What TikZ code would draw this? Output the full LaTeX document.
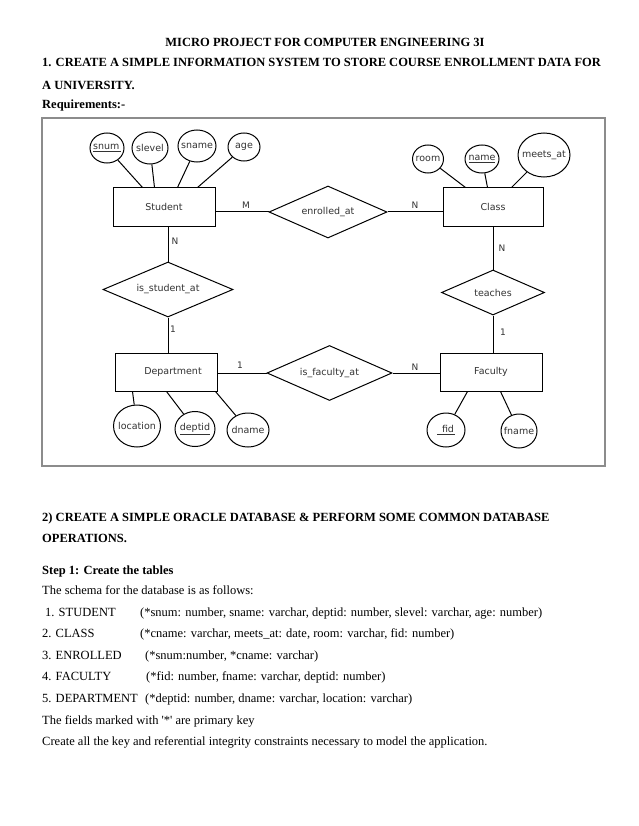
\documentclass[tikz,border=0pt]{standalone}
\usepackage{fontspec}
\setmainfont{Liberation Serif}
\newfontfamily\rawserif{Liberation Serif}
\newfontfamily\erfont{DejaVu Sans}
\usetikzlibrary{shapes.geometric,calc}
\begin{document}
\begin{tikzpicture}[x=1pt,y=-1pt,
  txt/.style={inner sep=0,anchor=base west,font=\fontsize{12.5}{14}\selectfont},
  btxt/.style={inner sep=0,anchor=base west,font=\fontsize{12.5}{14}\selectfont\bfseries},
  erf/.style={font=\erfont\fontsize{9.5}{11}\selectfont,text=black!80},
  ent/.style={draw,line width=1,rectangle,minimum width=102,minimum height=38,inner sep=0,erf},
  rel/.style={draw,line width=1,diamond,inner sep=0,erf},
  attr/.style={draw,line width=1,ellipse,inner sep=0,erf},
  card/.style={inner sep=0,font=\erfont\fontsize{9}{10}\selectfont,text=black!80},
  conn/.style={line width=1}]
\useasboundingbox (0,0) rectangle (638,826);
\fill[white] (0,0) rectangle (638,826);

% header
\node[inner sep=0,anchor=base,font=\fontsize{12.5}{14}\selectfont\bfseries] (title) at (325,46.5) {MICRO PROJECT FOR COMPUTER ENGINEERING 3I};
\node[btxt] (h1) at (42,67) {1. CREATE A SIMPLE INFORMATION SYSTEM TO STORE COURSE ENROLLMENT DATA FOR};
\node[btxt] (h2) at (42,89.5) {A UNIVERSITY.};
\node[btxt] (req) at (42,109) {Requirements:-};

% frame
\draw[black!45,line width=1.3] (42,118) rectangle (605,466);

% entities
\node[ent] (student) at (164,207) {Student};
\node[ent,minimum width=100] (class) at (493,207) {Class};
\node[ent] (dept) at (166,372) {\hspace*{14pt}Department};
\node[ent] (faculty) at (491,372) {Faculty};

% relationships
\node[rel,minimum width=118,minimum height=52] (enrolled) at (328,212) {\makebox[0pt]{enrolled\_at}};
\node[rel,minimum width=130,minimum height=55] (isstudent) at (168,289.5) {\makebox[0pt]{is\_student\_at}};
\node[rel,minimum width=103,minimum height=45] (teaches) at (493,292.5) {\makebox[0pt]{teaches}};
\node[rel,minimum width=125,minimum height=55] (isfaculty) at (329.5,373) {\makebox[0pt]{is\_faculty\_at}};

% attributes
\node[attr,minimum width=34,minimum height=30] (snum) at (107,148) {\makebox[0pt]{\underline{snum\,}}};
\node[attr,minimum width=36,minimum height=32] (slevel) at (150,148) {\makebox[0pt]{slevel}};
\node[attr,minimum width=38,minimum height=32] (sname) at (197,146) {\makebox[0pt]{sname}};
\node[attr,minimum width=32,minimum height=28] (age) at (244,147) {\makebox[0pt]{age}};
\node[attr,minimum width=31,minimum height=28] (room) at (428,159) {\makebox[0pt]{room}};
\node[attr,minimum width=34,minimum height=28] (name) at (482,159) {\makebox[0pt]{\underline{name}}};
\node[attr,minimum width=52,minimum height=44] (meets) at (544,155) {\makebox[0pt]{meets\_at}};
\node[attr,minimum width=47,minimum height=42] (location) at (137,426) {\makebox[0pt]{location}};
\node[attr,minimum width=40,minimum height=35] (deptid) at (195,429) {\makebox[0pt]{\underline{deptid}}};
\node[attr,minimum width=42,minimum height=34] (dname) at (248,430) {\makebox[0pt]{dname}};
\node[attr,minimum width=38,minimum height=34] (fid) at (446,430) {\makebox[0pt]{\underline{\hspace*{5pt}fid\hspace*{1pt}}}};
\node[attr,minimum width=36,minimum height=34] (fname) at (519,431) {\makebox[0pt]{fname}};

% attribute connectors
\draw[conn] (snum) -- ([xshift=30pt]student.north west);
\draw[conn] (slevel) -- ([xshift=42pt]student.north west);
\draw[conn] (sname) -- ([xshift=65pt]student.north west);
\draw[conn] (age) -- ([xshift=85pt]student.north west);
\draw[conn] (room) -- ([xshift=23pt]class.north west);
\draw[conn] (name) -- ([xshift=45pt]class.north west);
\draw[conn] (meets) -- ([xshift=69pt]class.north west);
\draw[conn] (location) -- ([xshift=18pt]dept.south west);
\draw[conn] (deptid) -- ([xshift=52pt]dept.south west);
\draw[conn] (dname) -- ([xshift=101pt]dept.south west);
\draw[conn] (fid) -- ([xshift=28pt]faculty.south west);
\draw[conn] (fname) -- ([xshift=61pt]faculty.south west);

% relationship connectors
\draw[conn] (enrolled.west -| student.east) -- (enrolled.west);
\draw[conn] (enrolled.east) -- (enrolled.east -| class.west);
\draw[conn] (isstudent.north |- student.south) -- (isstudent.north);
\draw[conn] (isstudent.south) -- (isstudent.south |- dept.north);
\draw[conn] (class.south) -- (teaches.north);
\draw[conn] (teaches.south) -- (teaches.south |- faculty.north);
\draw[conn] (isfaculty.west -| dept.east) -- (isfaculty.west);
\draw[conn] (isfaculty.east) -- (isfaculty.east -| faculty.west);

% cardinalities
\node[card] (cM) at (246,205) {M};
\node[card] (cN1) at (415,205) {N};
\node[card] (cN2) at (175,241) {N};
\node[card] (c11) at (173,329) {1};
\node[card] (c12) at (240,365) {1};
\node[card] (cN3) at (415,367) {N};
\node[card] (cN4) at (502,248) {N};
\node[card] (c13) at (503,332) {1};

% lower text
\node[btxt] (s2a) at (42,521) {2) CREATE A SIMPLE ORACLE DATABASE \& PERFORM SOME COMMON DATABASE};
\node[btxt] (s2b) at (42,542) {OPERATIONS.};
\node[btxt] (step) at (42,574) {Step 1: Create the tables};
\node[txt] (schema) at (42,594.5) {The schema for the database is as follows:};
\node[txt] (t1) at (45,616) {1. STUDENT};
\node[txt] (p1) at (140,616) {(*snum: number, sname: varchar, deptid: number, slevel: varchar, age: number)};
\node[txt] (t2) at (42,637.5) {2. CLASS};
\node[txt] (p2) at (140,637.5) {(*cname: varchar, meets\_at: date, room: varchar, fid: number)};
\node[txt] (t3) at (42,659) {3. ENROLLED};
\node[txt] (p3) at (145,659) {(*snum:number, *cname: varchar)};
\node[txt] (t4) at (42,680.5) {4. FACULTY};
\node[txt] (p4) at (146,680.5) {(*fid: number, fname: varchar, deptid: number)};
\node[txt] (t5) at (42,702) {5. DEPARTMENT};
\node[txt] (p5) at (145,702) {(*deptid: number, dname: varchar, location: varchar)};
\node[txt] (f1) at (42,724) {The fields marked with {\rawserif '*'} are primary key};
\node[txt] (f2) at (42,745.5) {Create all the key and referential integrity constraints necessary to model the application.};
\end{tikzpicture}
\end{document}
